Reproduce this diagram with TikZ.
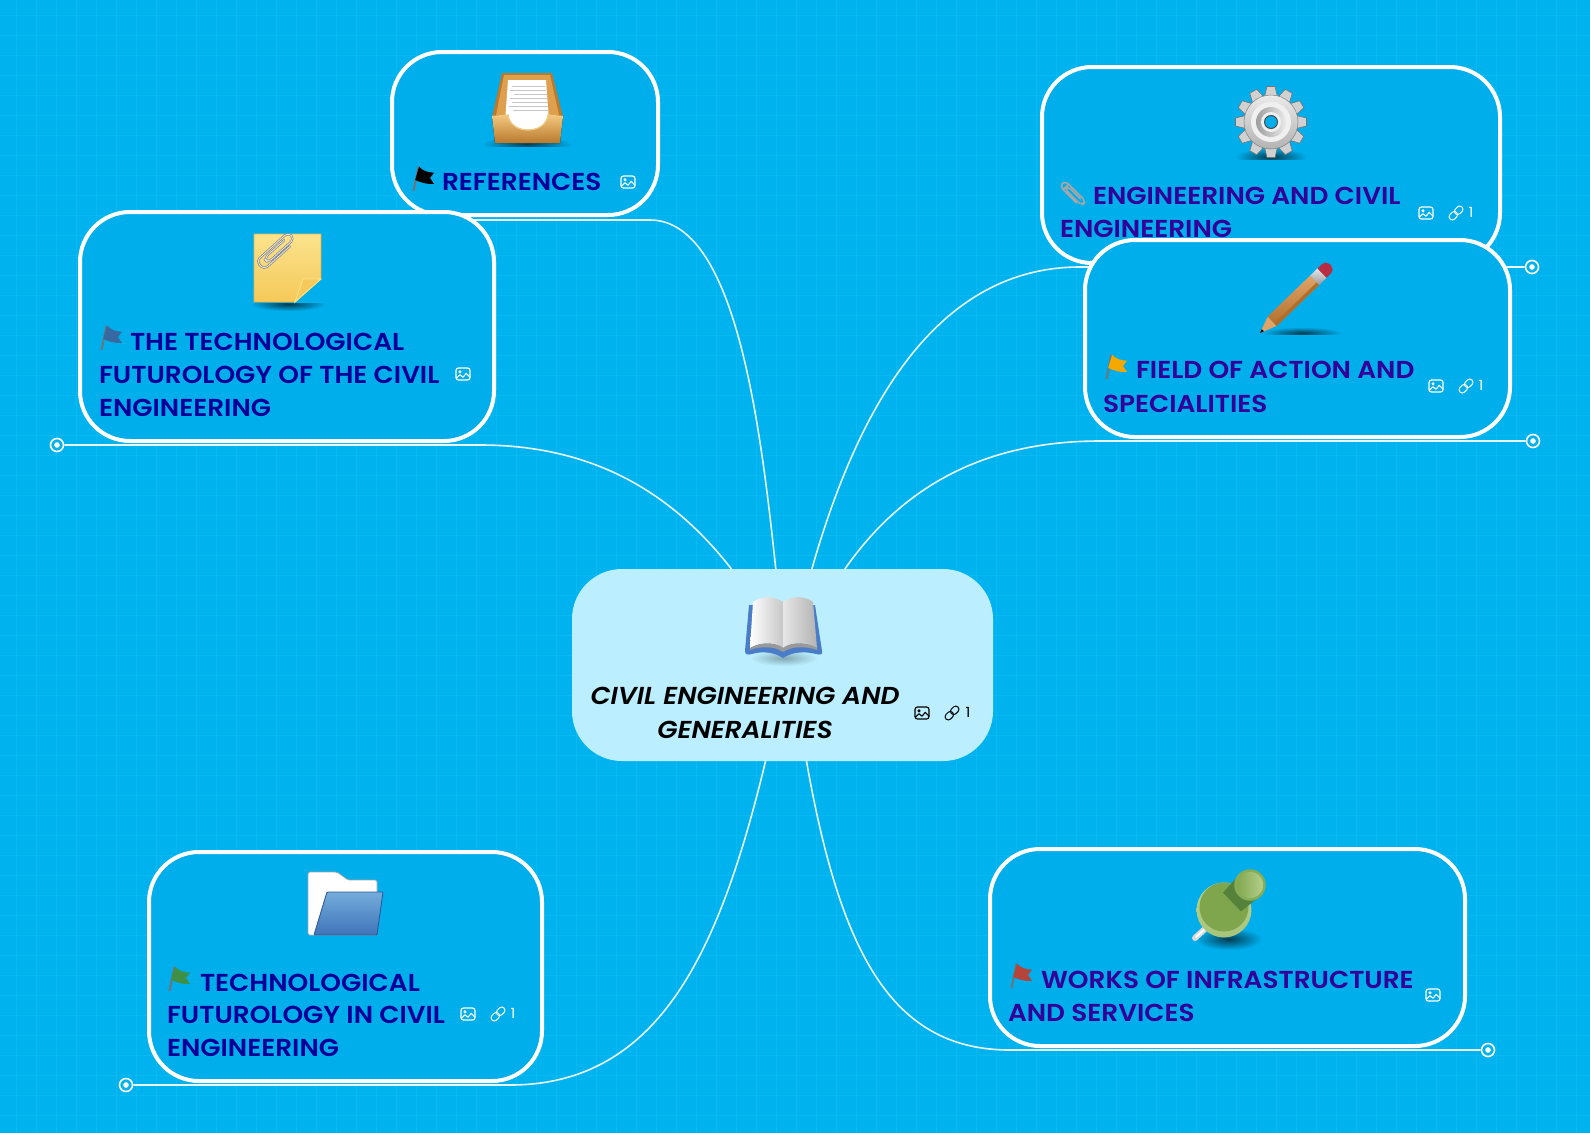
\documentclass[tikz,border=0pt]{standalone}
\usepackage{fontspec}
\setmainfont{Poppins}[BoldFont={Poppins SemiBold},BoldItalicFont={Poppins SemiBold Italic},FakeStretch=1.075]
\usetikzlibrary{shadows,calc}
\definecolor{bg}{HTML}{00B3EF}
\definecolor{gridc}{HTML}{08B9F2}
\definecolor{nodefill}{HTML}{00AEEC}
\definecolor{hub}{HTML}{BBEFFF}
\definecolor{navy}{HTML}{000099}
\definecolor{violet}{HTML}{330099}
\definecolor{wood}{HTML}{DFA04E}
\definecolor{wooddark}{HTML}{B97A2E}
\definecolor{woodlight}{HTML}{F2C77E}
\definecolor{notetop}{HTML}{FBE38C}
\definecolor{notebot}{HTML}{F5C95A}
\definecolor{noteedge}{HTML}{E9B44C}
\definecolor{flagblue}{HTML}{36699F}
\definecolor{flagorange}{HTML}{F5A800}
\definecolor{flaggreen}{HTML}{3F8F45}
\definecolor{flagred}{HTML}{B5453A}
\definecolor{pencilbody}{HTML}{E0A468}
\definecolor{pencildark}{HTML}{B06E2C}
\definecolor{erasered}{HTML}{B82C44}
\definecolor{covblue}{HTML}{4A7CC8}
\definecolor{foldhi}{HTML}{74ACDC}
\definecolor{foldlo}{HTML}{3F74B8}
\definecolor{foldedge}{HTML}{2E5A9A}
\definecolor{pinlight}{HTML}{B7D18E}
\definecolor{pinmid}{HTML}{7FA64C}
\definecolor{pindark}{HTML}{55823A}
\tikzset{
  leaf/.style={draw=white,line width=4pt,fill=nodefill,rounded corners=50pt,inner sep=0pt,outer sep=0pt,
     drop shadow={shadow xshift=0pt,shadow yshift=-2pt,opacity=.12,fill=black}},
  hubnode/.style={fill=hub,rounded corners=50pt,inner sep=0pt,outer sep=0pt},
  branch/.style={draw=white,line width=1.6pt,opacity=.9},
  endmark/.style={circle,draw=white,line width=1.6pt,fill=bg,minimum size=13pt,inner sep=0pt,
     path picture={\fill[white] (path picture bounding box.center) circle (2.8pt);}},
  lbl/.style={anchor=base west,inner sep=0pt,outer sep=0pt,font=\bfseries\fontsize{24.5}{24.5}\selectfont},
  hublbl/.style={anchor=base,inner sep=0pt,outer sep=0pt,font=\bfseries\itshape\fontsize{24.5}{24.5}\selectfont,text=black},
  num/.style={anchor=center,inner sep=0pt,font=\fontsize{14}{14}\selectfont},
  softshadow/.style={inner color=black!65!nodefill,outer color=nodefill},
  pics/flagicon/.style={code={
    \fill[black!55] (0.6,25) -- (5.5,0.5) -- (7.3,0.5) -- (2.6,25) -- cycle;
    \fill[#1] (7,0.7) .. controls (11,5) and (16,6.5) .. (22,6.7) -- (18,12) -- (22,18)
       .. controls (15,18.5) and (9,16.5) .. (3.2,14) -- cycle;
  }},
  pics/imgicon/.style={code={
    \draw[#1,line width=1.2pt,rounded corners=2.5pt] (-7,-6) rectangle (7,6);
    \fill[#1] (-3,-2.2) circle (1.7pt);
    \draw[#1,line width=1.1pt,line join=round] (-7,4.4) -- (-3,0.8) -- (0,3.2) -- (3.2,-0.6) -- (7,3.2);
  }},
  pics/linkicon/.style={code={
    \begin{scope}[rotate=45]
      \draw[#1,line width=1pt,rounded corners=3pt] (-8.4,-3.2) rectangle (0.8,3.2);
      \draw[#1,line width=1pt,rounded corners=3pt] (-0.8,-3.2) rectangle (8.4,3.2);
    \end{scope}
  }},
  pics/clipicon/.style={code={
    \draw[#1,line join=round,rounded corners=4.5pt,line cap=round]
      (14,5.5) -- (-19,5.5) -- (-19,-5.5) -- (22,-5.5) -- (22,3) -- (-12,3) -- (-12,-2.5) -- (14,-2.5);
  }},
}
\begin{document}
\begin{tikzpicture}[x=1pt,y=-1pt]
\useasboundingbox (0,0) rectangle (1590,1133);
\fill[bg] (0,0) rectangle (1590,1133);
% faint background grid
\foreach \gx in {-3.3,16.7,...,1590} {\draw[gridc,line width=.8pt] (\gx,0) -- (\gx,1133);}
\foreach \gy in {-5,15,...,1133} {\draw[gridc,line width=.8pt] (0,\gy) -- (1590,\gy);}

% central node
\node[hubnode,minimum width=421pt,minimum height=192pt] (central) at (782.5,665) {};

% branch ends
\node[endmark] (endTech) at (57,445) {};
\node[endmark] (endEng) at (1532,267) {};
\node[endmark] (endField) at (1533,441) {};
\node[endmark] (endFut) at (126,1085) {};
\node[endmark] (endWorks) at (1488,1050) {};
\coordinate (endRef) at (450,220);

% connectors
\draw[branch] (central.94.5) .. controls (760,420) and (735,220) .. (650,220) -- (endRef);
\draw[branch] (central.118.2) .. controls (670,490) and (590,445) .. (480,445) -- (endTech.east);
\draw[branch] (central.73.2) .. controls (860,400) and (940,267) .. (1080,267) -- (endEng.west);
\draw[branch] (central.57.8) .. controls (900,490) and (980,441) .. (1100,441) -- (endField.west);
\draw[branch] (central.-100.3) .. controls (720,950) and (660,1085) .. (510,1085) -- (endFut.east);
\draw[branch] (central.-76.2) .. controls (840,950) and (890,1050) .. (1010,1050) -- (endWorks.west);

% ---------- central content
\shade[inner color=black!30!hub,outer color=hub] (750,650) rectangle (818,666);
\fill[covblue] (749,605) -- (745,651) .. controls (745,655) and (748,655) .. (752,654)
  .. controls (762,651) and (774,652) .. (783,658)
  .. controls (792,652) and (804,651) .. (816,654) .. controls (820,655) and (823,655) .. (822,651) -- (815,605) -- cycle;
\shade[left color=white,right color=black!22]
  (753,602) .. controls (762,595) and (775,596) .. (783,602) -- (783,648)
  .. controls (775,642) and (760,642) .. (750,648) -- cycle;
\shade[left color=black!10,right color=black!30]
  (783,602) .. controls (791,596) and (804,595) .. (813,602) -- (817,648)
  .. controls (806,642) and (791,642) .. (783,648) -- cycle;
\fill[black!40] (750,648) .. controls (760,642) and (775,642) .. (783,648)
  .. controls (791,642) and (806,642) .. (817,648) -- (817,650)
  .. controls (806,646) and (791,646) .. (783,652) .. controls (775,646) and (760,646) .. (750,650) -- cycle;
\node[hublbl] (hubA) at (745,704) {CIVIL ENGINEERING AND};
\node[hublbl] (hubB) at (745,738) {GENERALITIES};
\pic at (922,713) {imgicon=black};
\pic at (952,713) {linkicon=black};
\node[num,text=black] (hubNum) at (968,712) {1};

% ---------- REFERENCES
\node[leaf,minimum width=266pt,minimum height=163pt] (references) at (525,133.5) {};
\shade[softshadow] (482,136) rectangle (572,152);
\fill[nodefill] (480,147) rectangle (574,153);
\fill[wooddark] (502,73) -- (552,73) -- (563,117) -- (492,117) -- cycle;
\fill[wood] (504,75) -- (550,75) -- (559,115) -- (496,115) -- cycle;
\fill[white] (508,80) -- (546,80) -- (550,136) -- (504,136) -- cycle;
\foreach \py/\pa/\pb in {86/512/545,90/510/546,94/514/547,98/510/547,102/512/548,106/509/548,110/513/549}
  {\draw[black!22,line width=.7pt] (\pa,\py) -- (\pb,\py);}
\fill[top color=woodlight,bottom color=wooddark]
  (492,116.5) -- (508,115) .. controls (510,135) and (546,135) .. (548,115) -- (563,116.5) -- (560,143) -- (495,143) -- cycle;
\draw[woodlight,line width=1.2pt] (492,116.5) -- (508,115) .. controls (510,135) and (546,135) .. (548,115) -- (563,116.5);
\node[lbl,text=navy] (refTxt) at (442,190) {REFERENCES};
\pic at (412,166) {flagicon=black};
\pic at (628,182) {imgicon=white};

% ---------- THE TECHNOLOGICAL FUTUROLOGY
\node[leaf,minimum width=414pt,minimum height=229pt] (techfut) at (287,326.5) {};
\shade[softshadow] (250,297) rectangle (326,311);
\fill[nodefill] (248,296) rectangle (328,303);
\fill[top color=notetop,bottom color=notebot,draw=noteedge,line width=.8pt]
  (254,234) -- (321,234) -- (321,279) -- (295,302) -- (254,302) -- cycle;
\fill[notebot,draw=notetop,line width=.9pt] (321,279) -- (303,279) -- (295,302) -- cycle;
\pic[rotate=42,scale=1.05,line width=2.2pt] at (275,252) {clipicon=black!50};
\pic[rotate=42,scale=1.05,line width=.9pt] at (275,252) {clipicon=black!10};
\node[lbl,text=navy] (tfA) at (130,350) {THE TECHNOLOGICAL};
\node[lbl,text=navy] (tfB) at (99,383) {FUTUROLOGY OF THE CIVIL};
\node[lbl,text=navy] (tfC) at (99,416) {ENGINEERING};
\pic at (100,325) {flagicon=flagblue};
\pic at (463,374) {imgicon=white};

% ---------- ENGINEERING AND CIVIL ENGINEERING
\node[leaf,minimum width=458pt,minimum height=196pt] (eng) at (1271,165) {};
\shade[softshadow] (1235,148) rectangle (1307,166);
\fill[nodefill] (1233,160) rectangle (1309,167);
\foreach \ta in {0,30,...,330} {
  \fill[black!18,draw=black!55,line width=.6pt,rotate around={\ta:(1271,122)}]
    (1267,86.5) -- (1275,86.5) -- (1278,99) -- (1264,99) -- cycle;
}
\shade[top color=black!8,bottom color=black!30,draw=black!50,line width=.5pt] (1271,122) circle (27);
\fill[black!6] (1271,122) circle (20);
\shade[left color=black!38,right color=black!8] (1271,122) circle (15);
\fill[black!6] (1271,122) circle (10);
\fill[nodefill,draw=black!70,line width=1pt] (1271,122) circle (6.5);
\node[lbl,text=violet] (enA) at (1093,204) {ENGINEERING AND CIVIL};
\node[lbl,text=violet] (enB) at (1060,237) {ENGINEERING};
\pic[rotate=-45,scale=.72,line width=1.6pt] at (1072,193) {clipicon=black!35};
\pic at (1426,213) {imgicon=white};
\pic at (1456,213) {linkicon=white};
\node[num,text=white] (enNum) at (1471,212) {1};

% ---------- FIELD OF ACTION
\node[leaf,minimum width=425pt,minimum height=197pt] (field) at (1297.5,338.5) {};
\shade[softshadow] (1262,327) rectangle (1342,339);
\fill[nodefill] (1262,335) rectangle (1342,340);
\begin{scope}[shift={(1260,333)},rotate=44]
  \fill[pencilbody] (0,0) -- (17,-6.5) -- (17,6.5) -- cycle;
  \fill[black] (0,0) -- (4,-1.5) -- (4,1.5) -- cycle;
  \shade[top color=pencilbody,bottom color=pencildark] (17,-6.5) rectangle (76,6.5);
  \fill[pencildark] (17,6.5) rectangle (76,3);
  \fill[erasered,rounded corners=5.5pt] (82,-6.5) rectangle (98,6.5);
  \shade[top color=black!10,bottom color=black!40] (76,-6.5) rectangle (86,6.5);
\end{scope}
\node[lbl,text=violet] (fiA) at (1136,378) {FIELD OF ACTION AND};
\node[lbl,text=violet] (fiB) at (1103,412) {SPECIALITIES};
\pic at (1105,354) {flagicon=flagorange};
\pic at (1436,386) {imgicon=white};
\pic at (1466,386) {linkicon=white};
\node[num,text=white] (fiNum) at (1481,385) {1};

% ---------- TECHNOLOGICAL FUTUROLOGY IN CIVIL ENGINEERING
\node[leaf,minimum width=393pt,minimum height=229pt] (techin) at (345.5,966.5) {};
\fill[white,draw=black!35,line width=.8pt,rounded corners=1.5pt]
  (308,872) -- (337,872) -- (348,880) -- (377,880) -- (377,935) -- (308,935) -- cycle;
\shade[top color=foldhi,bottom color=foldlo,draw=foldedge,line width=.9pt,rounded corners=1pt]
  (327,892) -- (383,892) -- (377,935) -- (314,935) -- cycle;
\node[lbl,text=navy] (fuA) at (200,991) {TECHNOLOGICAL};
\node[lbl,text=navy] (fuB) at (167,1023) {FUTUROLOGY IN CIVIL};
\node[lbl,text=navy] (fuC) at (167,1056) {ENGINEERING};
\pic at (168,966) {flagicon=flaggreen};
\pic at (468,1014) {imgicon=white};
\pic at (498,1014) {linkicon=white};
\node[num,text=white] (fuNum) at (513,1013) {1};

% ---------- WORKS OF INFRASTRUCTURE
\node[leaf,minimum width=475pt,minimum height=197pt] (works) at (1227.5,947.5) {};
\shade[softshadow] (1195,928) rectangle (1262,950);
\draw[black!15,line width=6pt,line cap=round] (1195,938) -- (1207,927);
\draw[white,line width=2pt,line cap=round] (1196,937) -- (1206,928);
\shade[top color=pinlight,bottom color=pinlight!70!pinmid] (1224,910) circle (27.5);
\fill[pinmid] (1224,907) circle (24.5);
\fill[pindark] (1260.4,895.8) -- (1239.6,874.2) -- (1223,892.6) -- (1241,911.4) -- cycle;
\shade[left color=pinmid,right color=pinlight,draw=pinmid!85!pinlight,line width=2.5pt] (1250,885) circle (14.5);
\node[lbl,text=violet] (woA) at (1041,988) {WORKS OF INFRASTRUCTURE};
\node[lbl,text=violet] (woB) at (1008,1021) {AND SERVICES};
\pic at (1010,963) {flagicon=flagred};
\pic at (1433,995) {imgicon=white};
\end{tikzpicture}
\end{document}
